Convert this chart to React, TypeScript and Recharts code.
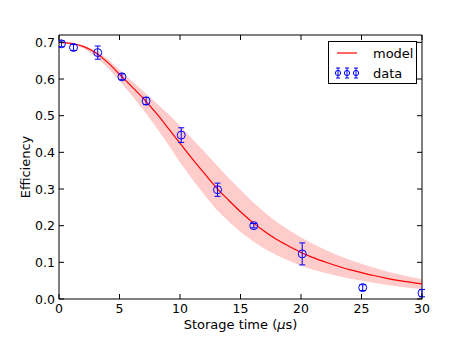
import React from 'react';
import {
  Area,
  ComposedChart,
  ErrorBar,
  Legend,
  Line,
  ReferenceLine,
  Scatter,
  XAxis,
  YAxis,
} from 'recharts';

// model curve (1 µs steps)
const MODEL_T = [0, 1, 2, 3, 4, 5, 6, 7, 8, 9, 10, 11, 12, 13, 14, 15, 16, 17, 18, 19, 20, 21, 22, 23, 24, 25, 26, 27, 28, 29, 30];
const MODEL = [
  0.7, 0.697, 0.689, 0.672, 0.646, 0.613, 0.58, 0.546, 0.508, 0.467, 0.425, 0.383, 0.343, 0.304, 0.27, 0.238,
  0.209, 0.184, 0.162, 0.144, 0.127, 0.113, 0.101, 0.09, 0.08, 0.072, 0.064, 0.057, 0.051, 0.046, 0.041,
];
const BAND_HIGH = [
  0.7, 0.698, 0.692, 0.678, 0.655, 0.625, 0.595, 0.566, 0.536, 0.505, 0.473, 0.437, 0.402, 0.366, 0.331, 0.298,
  0.265, 0.236, 0.21, 0.188, 0.168, 0.15, 0.134, 0.12, 0.107, 0.096, 0.086, 0.076, 0.068, 0.061, 0.054,
];
const BAND_LOW = [
  0.7, 0.695, 0.684, 0.663, 0.632, 0.595, 0.556, 0.514, 0.47, 0.423, 0.372, 0.327, 0.284, 0.244, 0.212, 0.183,
  0.158, 0.137, 0.119, 0.104, 0.091, 0.08, 0.071, 0.063, 0.056, 0.05, 0.044, 0.039, 0.034, 0.03, 0.027,
];

// measured points
const DATA_T = [0.2, 1.2, 3.2, 5.2, 7.2, 10.1, 13.1, 16.1, 20.1, 25.1, 30];
const DATA_EFF = [0.696, 0.686, 0.672, 0.606, 0.54, 0.447, 0.298, 0.2, 0.123, 0.031, 0.016];
const DATA_ERR = [0.008, 0.008, 0.018, 0.008, 0.01, 0.02, 0.018, 0.006, 0.03, 0.008, 0.01];

const X_TICKS = [0, 5, 10, 15, 20, 25, 30];
const Y_TICKS = [0, 0.1, 0.2, 0.3, 0.4, 0.5, 0.6, 0.7];

const FONT = '"DejaVu Sans", sans-serif';
const W = 466;
const H = 344;
const PLOT_TOP = 27;
const PLOT_RIGHT = 414;

const modelRows = MODEL_T.map((t, i) => ({ t, model: MODEL[i], band: [BAND_LOW[i], BAND_HIGH[i]] }));
const dataRows = DATA_T.map((t, i) => ({ t, eff: DATA_EFF[i], err: DATA_ERR[i] }));

/** bottom ticks, inward, plus matching ticks on the top spine */
function XTick({ x, y, payload }: any) {
  return (
    <g>
      <line x1={x} x2={x} y1={y} y2={y - 5} stroke="#000" />
      <line x1={x} x2={x} y1={PLOT_TOP} y2={PLOT_TOP + 5} stroke="#000" />
      <text x={x} y={y + 14} textAnchor="middle" fontSize={12.5} fontFamily={FONT} fill="#000">
        {payload.value}
      </text>
    </g>
  );
}

/** left ticks, inward, plus matching ticks on the right spine */
function YTick({ x, y, payload }: any) {
  return (
    <g>
      <line x1={x} x2={x + 5} y1={y} y2={y} stroke="#000" />
      <line x1={PLOT_RIGHT} x2={PLOT_RIGHT - 5} y1={y} y2={y} stroke="#000" />
      <text x={x - 4} y={y + 4.5} textAnchor="end" fontSize={12.5} fontFamily={FONT} fill="#000">
        {payload.value.toFixed(1)}
      </text>
    </g>
  );
}

function DataMarker({ cx, cy }: any) {
  return <circle cx={cx} cy={cy} r={4} fill="none" stroke="#0000ff" strokeWidth={1} />;
}

function ErrIcon({ x }: { x: number }) {
  return (
    <g stroke="#0000ff" fill="none" strokeWidth={1}>
      <line x1={x} x2={x} y1={2} y2={12} />
      <line x1={x - 2} x2={x + 2} y1={2} y2={2} />
      <line x1={x - 2} x2={x + 2} y1={12} y2={12} />
      <circle cx={x} cy={7} r={2.6} />
    </g>
  );
}

function LegendBox() {
  const row: React.CSSProperties = { display: 'flex', alignItems: 'center', height: 20 };
  return (
    <div
      style={{
        background: '#fff',
        border: '1px solid #000',
        width: 87,
        height: 41,
        fontFamily: FONT,
        fontSize: 13,
        color: '#000',
        boxSizing: 'content-box',
      }}
    >
      <div style={{ ...row, marginTop: 1 }}>
        <svg width={40} height={14} style={{ marginLeft: 4 }}>
          <line x1={4} x2={24} y1={7} y2={7} stroke="#ff0000" strokeWidth={1.2} />
        </svg>
        <span>model</span>
      </div>
      <div style={row}>
        <svg width={40} height={14} style={{ marginLeft: 4 }}>
          <ErrIcon x={5} />
          <ErrIcon x={14} />
          <ErrIcon x={23} />
        </svg>
        <span>data</span>
      </div>
    </div>
  );
}

export default function App() {
  return (
    <ComposedChart width={W} height={H} data={modelRows} margin={{ top: PLOT_TOP, right: W - PLOT_RIGHT, bottom: 0, left: 0 }}>
      <XAxis
        dataKey="t"
        type="number"
        domain={[0, 30]}
        ticks={X_TICKS}
        allowDataOverflow
        height={53}
        tickSize={0}
        tickMargin={0}
        tickLine={false}
        tick={<XTick />}
        axisLine={{ stroke: '#000' }}
        label={{
          content: ({ viewBox }: any) => (
            <text
              x={viewBox.x + viewBox.width / 2}
              y={viewBox.y + 30}
              textAnchor="middle"
              fontSize={13}
              fontFamily={FONT}
              fill="#000"
            >
              Storage time (<tspan fontStyle="italic">μ</tspan>s)
            </text>
          ),
        }}
      />
      <YAxis
        type="number"
        domain={[0, 0.72]}
        ticks={Y_TICKS}
        allowDataOverflow
        width={51}
        tickSize={0}
        tickMargin={0}
        tickLine={false}
        tick={<YTick />}
        axisLine={{ stroke: '#000' }}
        label={{
          content: ({ viewBox }: any) => {
            const cy = viewBox.y + viewBox.height / 2;
            return (
              <text
                x={22}
                y={cy}
                transform={`rotate(-90, 22, ${cy})`}
                textAnchor="middle"
                fontSize={13}
                fontFamily={FONT}
                fill="#000"
              >
                Efficiency
              </text>
            );
          },
        }}
      />
      <ReferenceLine y={0.72} stroke="#000" />
      <ReferenceLine x={30} stroke="#000" />
      <Area
        dataKey="band"
        type="linear"
        stroke="none"
        fill="#ff0000"
        fillOpacity={0.2}
        isAnimationActive={false}
        legendType="none"
      />
      <Line
        dataKey="model"
        name="model"
        type="monotone"
        stroke="#ff0000"
        strokeWidth={1.2}
        dot={false}
        activeDot={false}
        isAnimationActive={false}
      />
      <Scatter data={dataRows} dataKey="eff" name="data" shape={<DataMarker />} isAnimationActive={false}>
        <ErrorBar dataKey="err" direction="y" width={3} stroke="#0000ff" strokeWidth={1} />
      </Scatter>
      <Legend
        layout="horizontal"
        verticalAlign="middle"
        align="center"
        content={<LegendBox />}
        wrapperStyle={{ position: 'absolute', left: 320, top: 33, width: 89, height: 43 }}
      />
    </ComposedChart>
  );
}
